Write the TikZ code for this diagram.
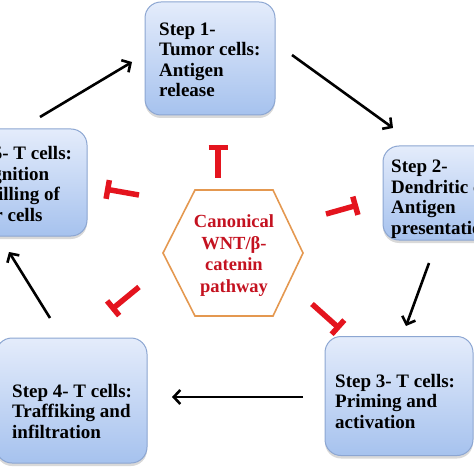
\documentclass[tikz,border=0pt]{standalone}
\usepackage{fontspec}
\setmainfont{Liberation Serif}
\usetikzlibrary{arrows.meta,shadows}
\definecolor{boxtop}{RGB}{228,236,251}
\definecolor{boxbot}{RGB}{166,194,238}
\definecolor{boxline}{RGB}{140,166,210}
\definecolor{hexline}{RGB}{228,152,80}
\definecolor{hexred}{RGB}{196,18,32}
\definecolor{inhred}{RGB}{228,20,30}
\begin{document}
\begin{tikzpicture}[x=1bp,y=-1bp,
  stepbox/.style={draw=boxline, line width=1bp, rounded corners=16bp,
    top color=boxtop, bottom color=boxbot, inner sep=0pt,
    drop shadow={shadow xshift=0bp, shadow yshift=-3bp, opacity=0.3}},
  boxtext/.style={font=\fontsize{19bp}{20.5bp}\selectfont\bfseries,
    align=left, inner sep=0pt, anchor=west},
  hextext/.style={font=\fontsize{18.5bp}{21.7bp}\selectfont\bfseries,
    align=center, inner sep=0pt, text=hexred},
  flow/.style={draw=black, line width=2.6bp, -{Straight Barb[length=6.5bp,width=14bp]}},
  inhib/.style={draw=inhred, line width=5.5bp, -{Bar[width=19bp]}}]
\useasboundingbox (0,0) rectangle (474,474);
\clip (0,0) rectangle (474,474);

% boxes
\node[stepbox, minimum width=130bp, minimum height=113bp] (b1) at (210,58.5) {};
\node[stepbox, minimum width=137bp, minimum height=94bp] (b2) at (451.5,193) {};
\node[stepbox, minimum width=148bp, minimum height=119bp] (b3) at (399,396) {};
\node[stepbox, minimum width=151bp, minimum height=125bp] (b4) at (71.5,400.5) {};
\node[stepbox, minimum width=147bp, minimum height=107bp] (b5) at (13.5,182.5) {};

% box texts
\node[boxtext] (t1) at (159,60) {Step 1-\\Tumor cells:\\Antigen\\release};
\node[boxtext] (t2) at (391,199) {Step 2-\\Dendritic cells:\\Antigen\\presentation};
\node[boxtext] (t3) at (335,401) {Step 3- T cells:\\Priming and\\activation};
\node[boxtext] (t4) at (12,411) {Step 4- T cells:\\Traffiking and\\infiltration};
\node[boxtext] (t5) at (-48,184) {Step 5- T cells:\\Recognition\\and killing of\\tumor cells};

% hexagon
\draw[draw=hexline, line width=1.6bp, line join=miter]
  (163,253) -- (195,190) -- (273,190) -- (303,253) -- (273,316) -- (195,316) -- cycle;
\node[hextext] (wnt) at (234,255.5) {Canonical\\WNT/β-\\catenin\\pathway};

% flow arrows
\coordinate (a1s) at (40,117);
\coordinate (a1e) at (132,62);
\coordinate (a2s) at (292,55);
\coordinate (a2e) at (393,128);
\coordinate (a3s) at (429,263);
\coordinate (a3e) at (406,326);
\coordinate (a4s) at (303,397);
\coordinate (a4e) at (172,397);
\coordinate (a5s) at (50,318);
\coordinate (a5e) at (9,252);
\draw[flow] (a1s) -- (a1e);
\draw[flow] (a2s) -- (a2e);
\draw[flow] (a3s) -- (a3e);
\draw[flow] (a4s) -- (a4e);
\draw[flow] (a5s) -- (a5e);

% inhibition bars
\coordinate (i1s) at (218,178);
\coordinate (i1e) at (218,145);
\coordinate (i2s) at (139,195);
\coordinate (i2e) at (105,189);
\coordinate (i3s) at (326,214);
\coordinate (i3e) at (358,205);
\coordinate (i4s) at (139,287);
\coordinate (i4e) at (111,310);
\coordinate (i5s) at (312,304);
\coordinate (i5e) at (340,329);
\draw[inhib] (i1s) -- (i1e);
\draw[inhib] (i2s) -- (i2e);
\draw[inhib] (i3s) -- (i3e);
\draw[inhib] (i4s) -- (i4e);
\draw[inhib] (i5s) -- (i5e);
\end{tikzpicture}
\end{document}
